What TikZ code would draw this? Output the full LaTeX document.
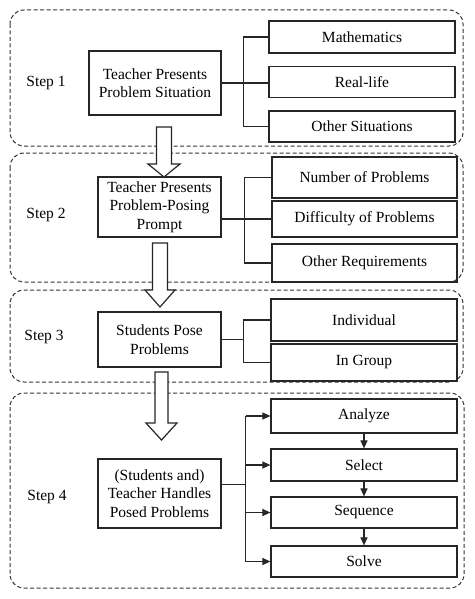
\documentclass[tikz,border=0pt]{standalone}
\usepackage{fontspec}
\setmainfont{Liberation Serif}
\usetikzlibrary{arrows.meta,calc}

\begin{document}
\begin{tikzpicture}[x=1pt, y=-1pt,
  stepframe/.style={draw=black!80, dash pattern=on 4pt off 2.5pt, rounded corners=14pt, line width=1pt},
  mainbox/.style={draw=black!85, line width=1.2pt, minimum width=123pt, align=center, inner sep=2pt, font=\fontsize{15.5}{18.5}\selectfont},
  optbox/.style={draw=black!85, line width=1.2pt, minimum width=186pt, align=center, font=\fontsize{15.5}{18.5}\selectfont},
  steplbl/.style={font=\fontsize{15.5}{18.5}\selectfont},
  link/.style={draw=black!85, line width=1.1pt},
  arr/.style={link, -{Triangle[length=8pt, width=7pt]}},
  hollow/.style={draw=black!85, line width=1.2pt, fill=white, line join=miter},
]
\useasboundingbox (0,0) rectangle (474,599);

% Dashed step frames
\draw[stepframe] (10,10) rectangle (463,146);
\draw[stepframe] (10,153) rectangle (463,282);
\draw[stepframe] (10,290) rectangle (463,382);
\draw[stepframe] (10,393) rectangle (464,588);

% Step 1
\node[steplbl] (l1) at (46,83) {Step 1};
\node[mainbox, minimum width=132pt, minimum height=64pt] (m1) at (155,83) {Teacher Presents\\Problem Situation};
\node[optbox, minimum height=32pt] (a1) at (362,37) {Mathematics};
\node[optbox, minimum height=31pt] (a2) at (362,82) {Real-life};
\node[optbox, minimum height=31pt] (a3) at (362,126.5) {Other Situations};
\draw[link] (a1.west) -- ++(-25,0) |- (a3.west);
\draw[link] (m1.east) -- (m1.east -| a2.west);

% Step 2
\node[steplbl] (l2) at (46,215) {Step 2};
\node[mainbox, minimum height=60pt] (m2) at (159.5,207) {Teacher Presents\\Problem-Posing\\Prompt};
\node[optbox, minimum width=185pt, minimum height=41pt] (b1) at (364.5,177.5) {Number of Problems};
\node[optbox, minimum width=185pt, minimum height=36pt] (b2) at (364.5,219) {Difficulty of Problems};
\node[optbox, minimum width=185pt, minimum height=38pt] (b3) at (364.5,263) {Other Requirements};
\draw[link] (b1.west) -- ++(-27,0) |- (b3.west);
\draw[link] (b2.west) -- (b2.west -| m2.east);

% Step 3
\node[steplbl] (l3) at (44,337) {Step 3};
\node[mainbox, minimum height=55pt] (m3) at (159.5,339.5) {Students Pose\\Problems};
\node[optbox, minimum height=42pt] (c1) at (364,320) {Individual};
\node[optbox, minimum height=37pt] (c2) at (364,362.5) {In Group};
\draw[link] (c1.west) -- ++(-27,0) coordinate (k3) |- (c2.west);
\draw[link] (m3.east) -- (m3.east -| k3);

% Step 4
\node[steplbl] (l4) at (47,497) {Step 4};
\node[mainbox, minimum height=69pt] (m4) at (159.5,493.5) {(Students and)\\Teacher Handles\\Posed Problems};
\node[optbox, minimum height=34pt] (d1) at (364,416) {Analyze};
\node[optbox, minimum height=32pt] (d2) at (364,465) {Select};
\node[optbox, minimum height=31pt] (d3) at (364,512.5) {Sequence};
\node[optbox, minimum height=31pt] (d4) at (364,561.5) {Solve};
\coordinate (fork) at ($(m4.east)+(24,-9)$);
\draw[link] ([yshift=9pt]m4.east) -- (fork);
\draw[link] (fork |- d1.west) -- (fork |- d4.west);
\draw[arr] (fork |- d1.west) -- (d1.west);
\draw[arr] (fork |- d2.west) -- (d2.west);
\draw[arr] (fork |- d3.west) -- (d3.west);
\draw[arr] (fork |- d4.west) -- (d4.west);
\draw[arr] (d1.south) -- (d2.north);
\draw[arr] (d2.south) -- (d3.north);
\draw[arr] (d3.south) -- (d4.north);

% Hollow arrows between steps
\coordinate (tip1) at (164,177);
\coordinate (tip2) at (160,307);
\coordinate (tip3) at (161.5,440);
\draw[hollow] (tip1) -- ++(16,-13) -- ++(-8.5,0) -- ++(0,-37) -- ++(-15,0) -- ++(0,37) -- ++(-8.5,0) -- cycle;
\draw[hollow] (tip2) -- ++(15,-17) -- ++(-7.5,0) -- ++(0,-47) -- ++(-15,0) -- ++(0,47) -- ++(-7.5,0) -- cycle;
\draw[hollow] (tip3) -- ++(15.5,-17) -- ++(-9,0) -- ++(0,-51) -- ++(-13,0) -- ++(0,51) -- ++(-9,0) -- cycle;
\end{tikzpicture}
\end{document}
